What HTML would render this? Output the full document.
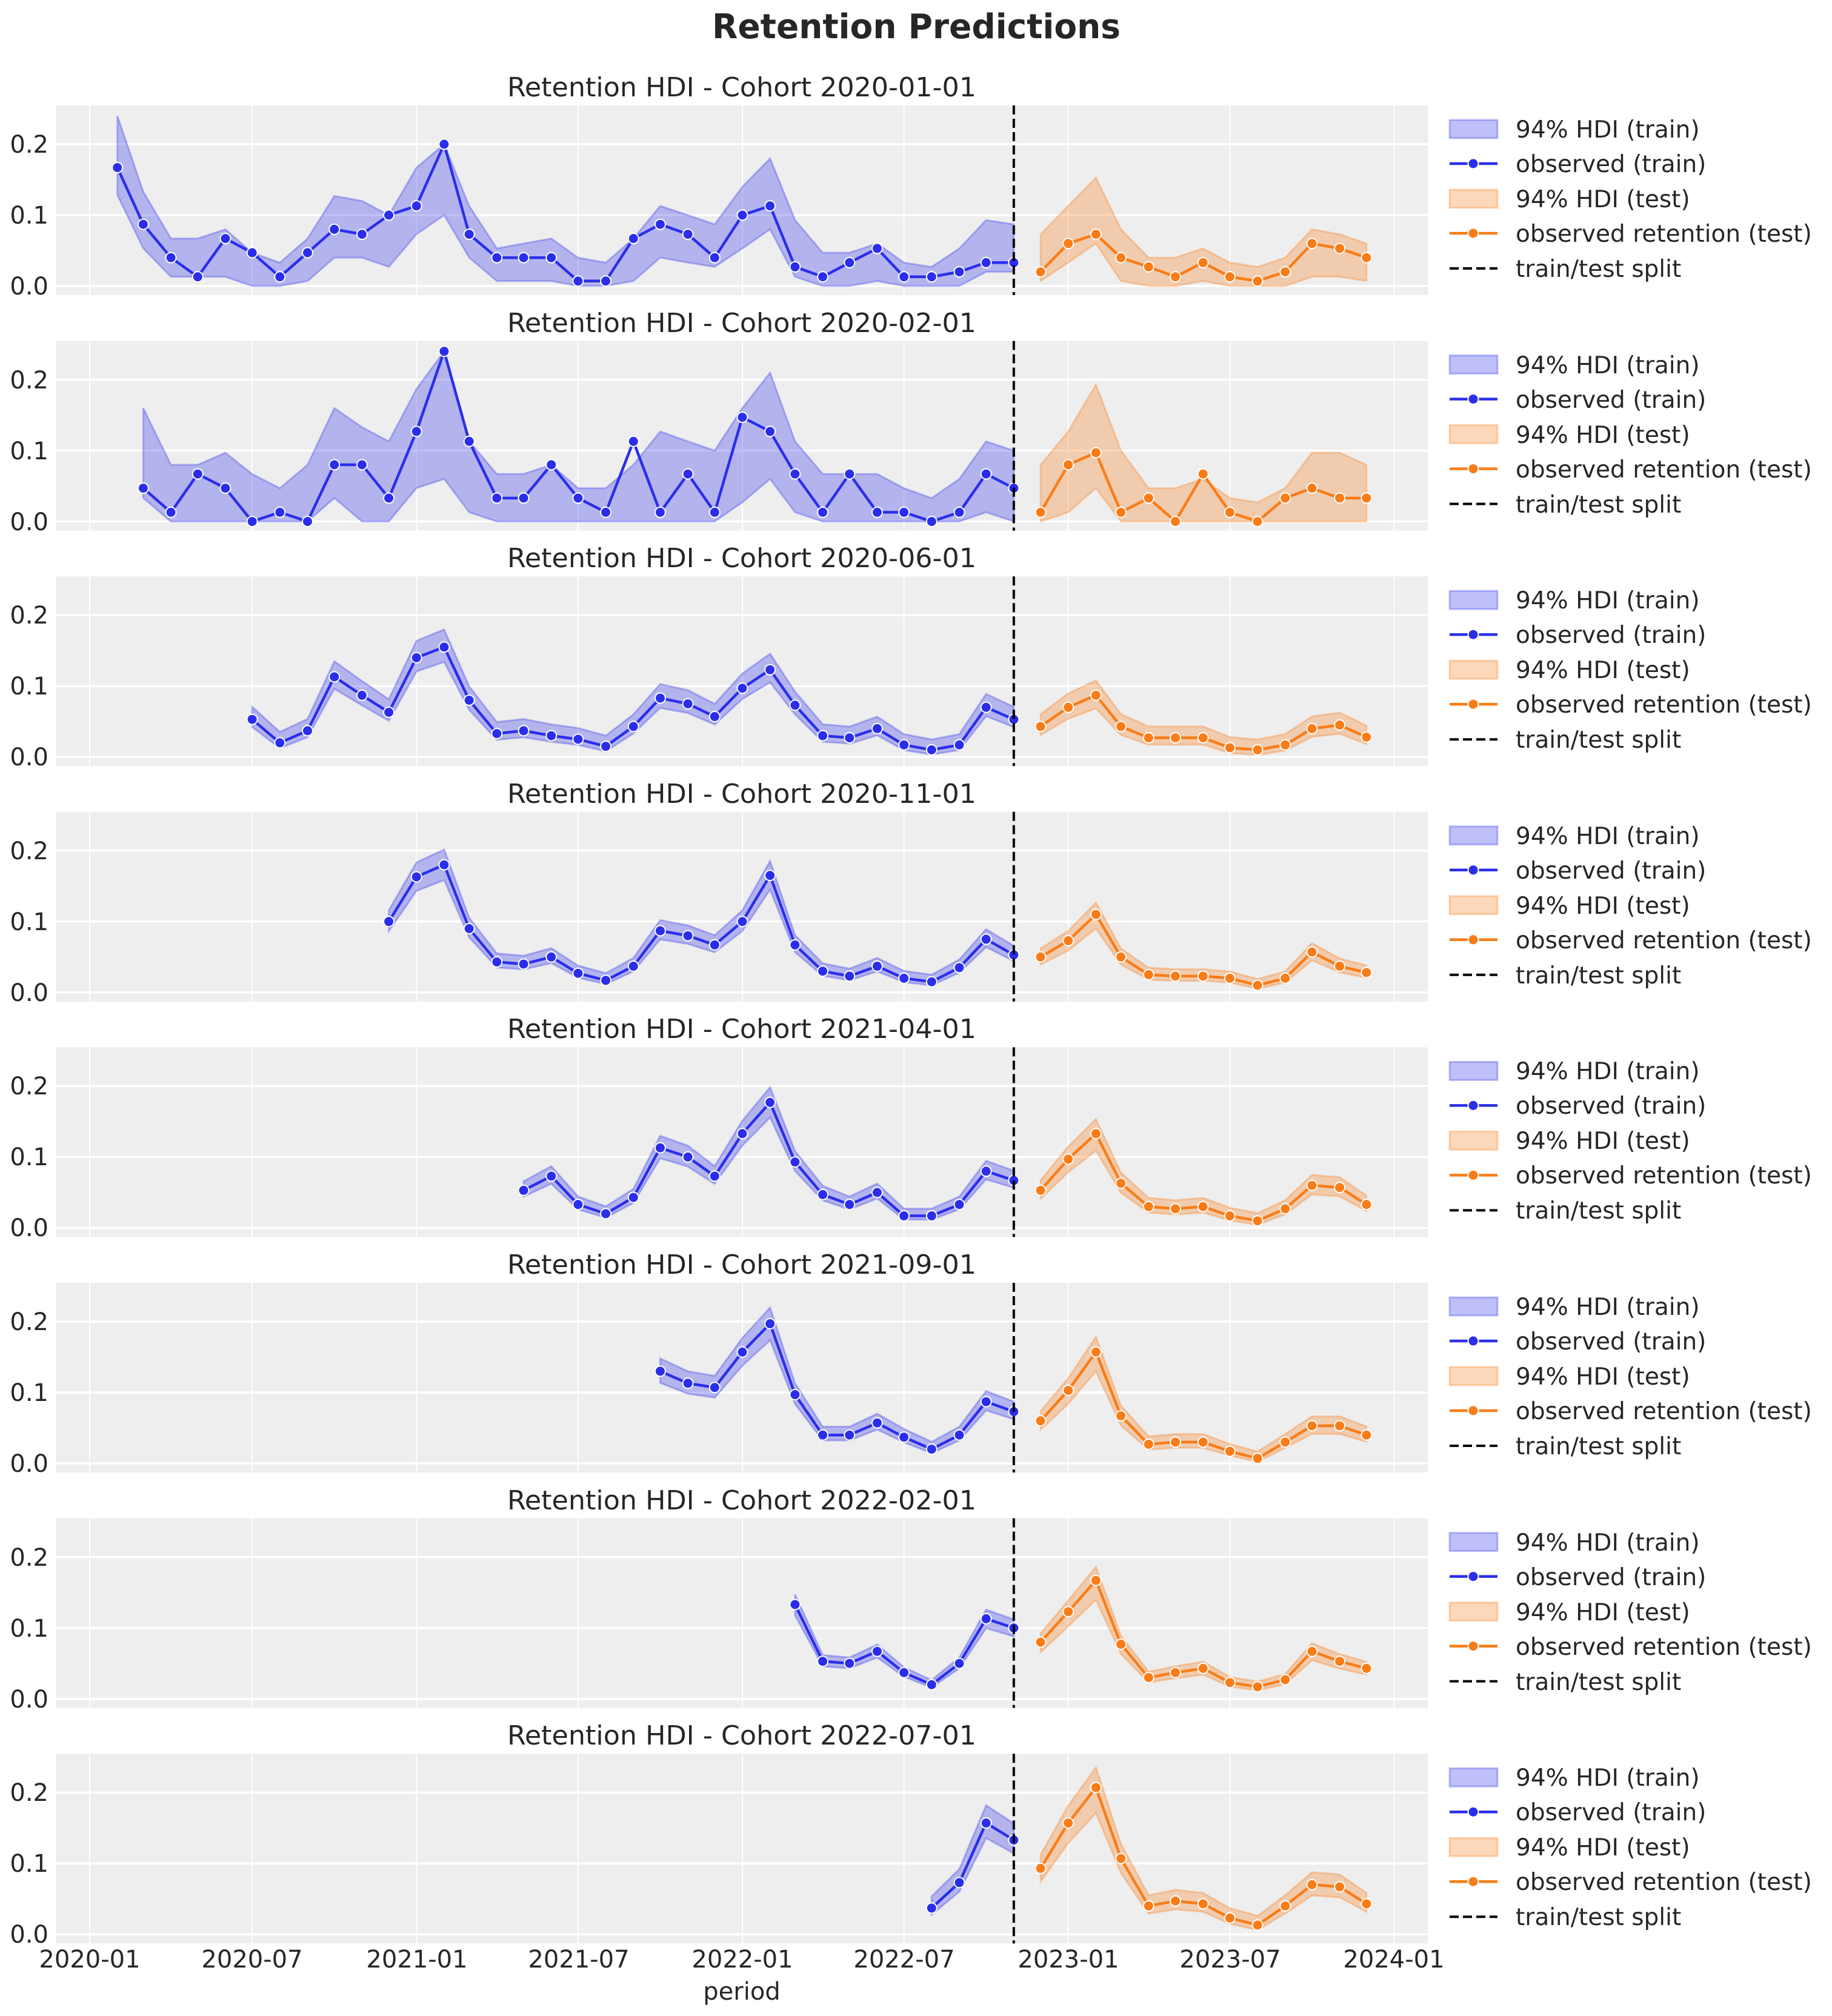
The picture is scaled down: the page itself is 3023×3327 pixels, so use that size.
<!DOCTYPE html>
<html><head><meta charset="utf-8">
<style>
html,body{margin:0;padding:0;background:#fff;}
svg{display:block;}
text{font-family:"DejaVu Sans","Liberation Sans",sans-serif;fill:#262626;}
</style></head>
<body>
<svg id="s" width="3023" height="3327" xmlns="http://www.w3.org/2000/svg">
<text x="1512" y="63" font-size="56" font-weight="bold" text-anchor="middle" textLength="674" lengthAdjust="spacingAndGlyphs">Retention Predictions</text>
<g id="plots"></g>
<g id="labels" font-size="40">
<text x="1224" y="159" font-size="44" text-anchor="middle" textLength="774" lengthAdjust="spacingAndGlyphs">Retention HDI - Cohort 2020-01-01</text>
<text x="1224" y="548" font-size="44" text-anchor="middle" textLength="774" lengthAdjust="spacingAndGlyphs">Retention HDI - Cohort 2020-02-01</text>
<text x="1224" y="936" font-size="44" text-anchor="middle" textLength="774" lengthAdjust="spacingAndGlyphs">Retention HDI - Cohort 2020-06-01</text>
<text x="1224" y="1325" font-size="44" text-anchor="middle" textLength="774" lengthAdjust="spacingAndGlyphs">Retention HDI - Cohort 2020-11-01</text>
<text x="1224" y="1713" font-size="44" text-anchor="middle" textLength="774" lengthAdjust="spacingAndGlyphs">Retention HDI - Cohort 2021-04-01</text>
<text x="1224" y="2102" font-size="44" text-anchor="middle" textLength="774" lengthAdjust="spacingAndGlyphs">Retention HDI - Cohort 2021-09-01</text>
<text x="1224" y="2491" font-size="44" text-anchor="middle" textLength="774" lengthAdjust="spacingAndGlyphs">Retention HDI - Cohort 2022-02-01</text>
<text x="1224" y="2879" font-size="44" text-anchor="middle" textLength="774" lengthAdjust="spacingAndGlyphs">Retention HDI - Cohort 2022-07-01</text>
<g text-anchor="end">
<text x="80" y="252">0.2</text><text x="80" y="369">0.1</text><text x="80" y="486">0.0</text>
<text x="80" y="641">0.2</text><text x="80" y="758">0.1</text><text x="80" y="875">0.0</text>
<text x="80" y="1029">0.2</text><text x="80" y="1146">0.1</text><text x="80" y="1263">0.0</text>
<text x="80" y="1418">0.2</text><text x="80" y="1535">0.1</text><text x="80" y="1652">0.0</text>
<text x="80" y="1806">0.2</text><text x="80" y="1923">0.1</text><text x="80" y="2040">0.0</text>
<text x="80" y="2195">0.2</text><text x="80" y="2312">0.1</text><text x="80" y="2429">0.0</text>
<text x="80" y="2584">0.2</text><text x="80" y="2701">0.1</text><text x="80" y="2818">0.0</text>
<text x="80" y="2972">0.2</text><text x="80" y="3089">0.1</text><text x="80" y="3206">0.0</text>
</g>
<g text-anchor="middle">
<text x="148" y="3247">2020-01</text><text x="416" y="3247">2020-07</text><text x="688" y="3247">2021-01</text><text x="955" y="3247">2021-07</text><text x="1225" y="3247">2022-01</text><text x="1492" y="3247">2022-07</text><text x="1763" y="3247">2023-01</text><text x="2030" y="3247">2023-07</text><text x="2300" y="3247">2024-01</text>
<text x="1224" y="3300">period</text>
</g>
<g id="leg" font-size="39">
<text x="2501" y="227">94% HDI (train)</text><text x="2501" y="284">observed (train)</text><text x="2501" y="342">94% HDI (test)</text><text x="2501" y="399">observed retention (test)</text><text x="2501" y="457">train/test split</text>
<text x="2501" y="616">94% HDI (train)</text><text x="2501" y="673">observed (train)</text><text x="2501" y="731">94% HDI (test)</text><text x="2501" y="788">observed retention (test)</text><text x="2501" y="846">train/test split</text>
<text x="2501" y="1004">94% HDI (train)</text><text x="2501" y="1061">observed (train)</text><text x="2501" y="1119">94% HDI (test)</text><text x="2501" y="1176">observed retention (test)</text><text x="2501" y="1234">train/test split</text>
<text x="2501" y="1393">94% HDI (train)</text><text x="2501" y="1450">observed (train)</text><text x="2501" y="1508">94% HDI (test)</text><text x="2501" y="1565">observed retention (test)</text><text x="2501" y="1623">train/test split</text>
<text x="2501" y="1781">94% HDI (train)</text><text x="2501" y="1838">observed (train)</text><text x="2501" y="1896">94% HDI (test)</text><text x="2501" y="1953">observed retention (test)</text><text x="2501" y="2011">train/test split</text>
<text x="2501" y="2170">94% HDI (train)</text><text x="2501" y="2227">observed (train)</text><text x="2501" y="2285">94% HDI (test)</text><text x="2501" y="2342">observed retention (test)</text><text x="2501" y="2400">train/test split</text>
<text x="2501" y="2559">94% HDI (train)</text><text x="2501" y="2616">observed (train)</text><text x="2501" y="2674">94% HDI (test)</text><text x="2501" y="2731">observed retention (test)</text><text x="2501" y="2789">train/test split</text>
<text x="2501" y="2947">94% HDI (train)</text><text x="2501" y="3004">observed (train)</text><text x="2501" y="3062">94% HDI (test)</text><text x="2501" y="3119">observed retention (test)</text><text x="2501" y="3177">train/test split</text>
</g>
</g>
</svg>
<script>
(function(){
var NS="http://www.w3.org/2000/svg",g=document.getElementById("plots");
function el(t,a){var e=document.createElementNS(NS,t);for(var k in a)e.setAttribute(k,a[k]);g.appendChild(e);return e;}
var base=Date.UTC(2020,0,1);
function X(m){var d=(Date.UTC(2020,m,1)-base)/864e5;return 148+d*1.4733;}
var B="#2a2eec",O="#fa7c17";
var P=[
{s:1,o:[.167,.087,.04,.013,.067,.047,.013,.047,.08,.073,.1,.113,.2,.073,.04,.04,.04,.007,.007,.067,.087,.073,.04,.1,.113,.027,.013,.033,.053,.013,.013,.02,.033,.033],
lo:[.128,.053,.013,.013,.013,0,0,.007,.04,.04,.027,.073,.1,.04,.007,.007,.007,0,0,.007,.04,.033,.027,.053,.08,.013,0,0,.007,0,0,0,.02,.02],
hi:[.24,.133,.067,.067,.08,.047,.033,.067,.127,.12,.1,.167,.2,.113,.053,.06,.067,.04,.033,.067,.113,.1,.087,.14,.18,.093,.047,.047,.06,.033,.027,.053,.093,.087],
to:[.02,.06,.073,.04,.027,.013,.033,.013,.007,.02,.06,.053,.04],
tl:[.007,.033,.06,.007,0,0,.007,0,0,0,.013,.013,.007],
th:[.073,.113,.153,.08,.04,.04,.053,.033,.027,.04,.08,.073,.06]},
{s:2,o:[.047,.013,.067,.047,0,.013,0,.08,.08,.033,.127,.24,.113,.033,.033,.08,.033,.013,.113,.013,.067,.013,.147,.127,.067,.013,.067,.013,.013,0,.013,.067,.047],
lo:[.033,0,0,0,0,0,0,.033,0,0,.047,.06,.013,0,0,0,0,0,0,0,0,0,.027,.06,.013,0,0,0,0,0,0,.013,0],
hi:[.16,.08,.08,.097,.067,.047,.08,.16,.133,.113,.187,.24,.113,.067,.067,.08,.047,.047,.08,.127,.113,.1,.16,.21,.113,.067,.067,.067,.047,.033,.06,.113,.1],
to:[.013,.08,.097,.013,.033,0,.067,.013,0,.033,.047,.033,.033],
tl:[0,.013,.047,0,0,0,0,0,0,0,0,0,0],
th:[.08,.127,.193,.1,.047,.047,.06,.033,.027,.047,.097,.097,.08]},
{s:6,o:[.053,.02,.037,.113,.087,.063,.14,.155,.08,.033,.037,.03,.025,.015,.043,.083,.075,.057,.097,.123,.073,.03,.027,.04,.017,.01,.017,.07,.053],
to:[.043,.07,.087,.043,.027,.027,.027,.013,.01,.017,.04,.045,.028],w:.014,wt:.014},
{s:11,o:[.1,.163,.18,.09,.043,.04,.05,.027,.017,.037,.087,.08,.067,.1,.165,.067,.03,.023,.037,.02,.015,.035,.075,.053],
to:[.05,.073,.11,.05,.025,.023,.023,.02,.01,.02,.057,.037,.028],w:.009,wt:.008},
{s:16,o:[.053,.073,.033,.02,.043,.113,.1,.073,.133,.177,.093,.047,.033,.05,.017,.017,.033,.08,.067],
to:[.053,.097,.133,.063,.03,.027,.03,.017,.01,.027,.06,.057,.033],w:.009,wt:.01},
{s:21,o:[.13,.113,.107,.157,.197,.097,.04,.04,.057,.037,.02,.04,.087,.073],
to:[.06,.103,.157,.067,.027,.03,.03,.017,.007,.03,.053,.053,.04],w:.009,wt:.009},
{s:26,o:[.133,.053,.05,.067,.037,.02,.05,.113,.1],
to:[.08,.123,.167,.077,.03,.037,.043,.023,.017,.027,.067,.053,.043],w:.005,wt:.006},
{s:31,o:[.037,.073,.157,.133],
to:[.093,.157,.207,.107,.04,.047,.043,.023,.013,.04,.07,.067,.043],w:.014,wt:.012}
];
var L=92,R=2356;
P.forEach(function(p,i){
 var T=174+388.6*i,y0=T+298;
 function Y(v){return y0-v*1170;}
 el("rect",{x:L,y:T,width:R-L,height:313,fill:"#eeeeee"});
 [0,6,12,18,24,30,36,42,48].forEach(function(m){var x=X(m);el("line",{x1:x,x2:x,y1:T,y2:T+313,stroke:"#fff","stroke-width":2});});
 [0,.1,.2].forEach(function(v){el("line",{x1:L,x2:R,y1:Y(v),y2:Y(v),stroke:"#fff","stroke-width":3.5});});
 var lo=p.lo,hi=p.hi,tl=p.tl,th=p.th;
 if(!lo){lo=p.o.map(function(v){return Math.max(0,v*0.9-p.w*0.4);});hi=p.o.map(function(v){return v*1.07+p.w;});}
 if(!tl){tl=p.to.map(function(v){return Math.max(0,v*0.85-p.wt*0.4);});th=p.to.map(function(v){return v*1.08+p.wt;});}
 function band(st,a,b,c){var pts=[];for(var k=0;k<a.length;k++)pts.push(X(st+k).toFixed(1)+","+Y(b[k]).toFixed(1));for(k=a.length-1;k>=0;k--)pts.push(X(st+k).toFixed(1)+","+Y(a[k]).toFixed(1));
  el("polygon",{points:pts.join(" "),fill:c,"fill-opacity":0.3,stroke:c,"stroke-opacity":0.3,"stroke-width":3});}
 function line(st,o,c){var pts=o.map(function(v,k){return X(st+k).toFixed(1)+","+Y(v).toFixed(1);});
  el("polyline",{points:pts.join(" "),fill:"none",stroke:c,"stroke-width":4.5,"stroke-linejoin":"round"});
  o.forEach(function(v,k){el("circle",{cx:X(st+k),cy:Y(v),r:8.5,fill:c,stroke:"#fff","stroke-width":2});});}
 band(p.s,lo,hi,B);band(35,tl,th,O);
 line(p.s,p.o,B);line(35,p.to,O);
 el("line",{x1:X(34),x2:X(34),y1:T,y2:T+313,stroke:"#000","stroke-width":4,"stroke-dasharray":"15,7"});
 var ly=[39,96,154,211,269];
 el("rect",{x:2392,y:T+ly[0]-15,width:79,height:30,fill:B,"fill-opacity":0.3,stroke:B,"stroke-opacity":0.3,"stroke-width":3});
 el("line",{x1:2392,x2:2471,y1:T+ly[1],y2:T+ly[1],stroke:B,"stroke-width":4.5});
 el("circle",{cx:2431,cy:T+ly[1],r:8.5,fill:B,stroke:"#fff","stroke-width":2});
 el("rect",{x:2392,y:T+ly[2]-15,width:79,height:30,fill:O,"fill-opacity":0.3,stroke:O,"stroke-opacity":0.3,"stroke-width":3});
 el("line",{x1:2392,x2:2471,y1:T+ly[3],y2:T+ly[3],stroke:O,"stroke-width":4.5});
 el("circle",{cx:2431,cy:T+ly[3],r:8.5,fill:O,stroke:"#fff","stroke-width":2});
 el("line",{x1:2392,x2:2471,y1:T+ly[4],y2:T+ly[4],stroke:"#000","stroke-width":4,"stroke-dasharray":"15,7"});
});
})();
</script>
</body></html>
